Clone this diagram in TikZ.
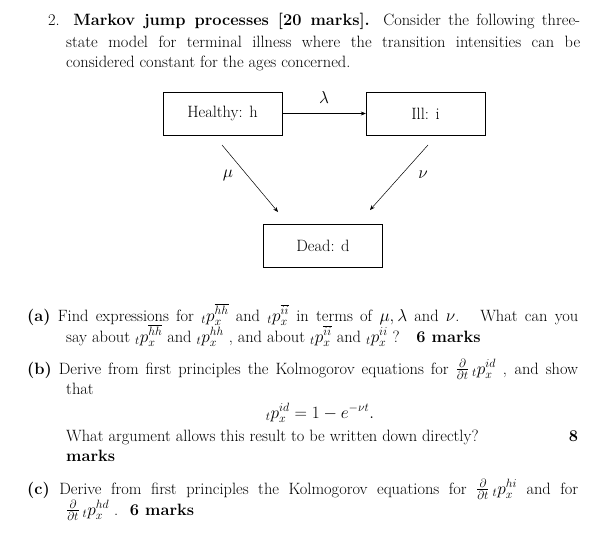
\documentclass[tikz,border=0pt]{standalone}
\usepackage{fontspec}
\usepackage{amsmath}
\usetikzlibrary{arrows.meta}
\begin{document}
\begin{tikzpicture}[x=1pt,y=-1pt,
  st/.style={draw,minimum width=119pt,minimum height=43pt,font=\fontsize{16.4}{20}\selectfont},
  arr/.style={-{Stealth[length=5pt,width=4pt]},line width=0.5pt},
  ln/.style={anchor=base west,inner sep=0pt,font=\fontsize{16.4}{20}\selectfont}]
\useasboundingbox (0,0) rectangle (605,544);
\newcommand{\jl}[2]{\makebox[#1pt][s]{#2}}
\newcommand{\pp}[1]{{}_tp_x^{#1}}
\node[ln] (l1) at (48,25) {\jl{532}{2. \textbf{Markov jump processes [20 marks].} Consider the following three-}};
\node[ln] (l2) at (66,47) {\jl{514}{state model for terminal illness where the transition intensities can be}};
\node[ln] (l3) at (66,67) {considered constant for the ages concerned.};
\node[st] (h) at (222.5,113.5) {Healthy: h};
\node[st] (i) at (425.5,113.5) {Ill: i};
\node[st] (d) at (323,245.5) {Dead: d};
\draw[arr] (h) -- (i) node[midway,above=6pt,font=\fontsize{16.4}{20}\selectfont] (lam) {$\lambda$};
\coordinate (a1) at (222,145); \coordinate (a2) at (428,145);
\coordinate (e1) at (278,212); \coordinate (e2) at (370,210);
\draw[arr] (a1) -- (e1);
\draw[arr] (a2) -- (e2);
\node[ln,anchor=center] (mu) at (228,175) {$\mu$};
\node[ln,anchor=center] (nu) at (423,175) {$\nu$};
\node[ln] (a) at (27,321) {\jl{551}{\textbf{(a)} Find expressions for $\pp{\overline{hh}}$ and $\pp{\overline{ii}}$ in terms of $\mu,\lambda$ and $\nu$. \ What can you}};
\node[ln] (a2t) at (66,342) {say about $\pp{\overline{hh}}$ and $\pp{hh}$ , and about $\pp{\overline{ii}}$ and $\pp{ii}$ ? \ \ \textbf{6 marks}};
\node[ln] (b) at (27,374) {\jl{551}{\textbf{(b)} Derive from first principles the Kolmogorov equations for $\frac{\partial}{\partial t}\,\pp{id}$ , and show}};
\node[ln] (b2) at (66,394) {that};
\node[ln,anchor=base] (f) at (320,418) {$\pp{id}=1-e^{-\nu t}.$};
\node[ln] (b3) at (66,441) {\jl{512}{What argument allows this result to be written down directly? \hfill \textbf{8}}};
\node[ln] (b4) at (66,461) {\textbf{marks}};
\node[ln] (c) at (27,494) {\jl{551}{\textbf{(c)} Derive from first principles the Kolmogorov equations for $\frac{\partial}{\partial t}\,\pp{hi}$ and for}};
\node[ln] (c2) at (66,515) {$\frac{\partial}{\partial t}\,\pp{hd}$ . \ \textbf{6 marks}};
\end{tikzpicture}
\end{document}
